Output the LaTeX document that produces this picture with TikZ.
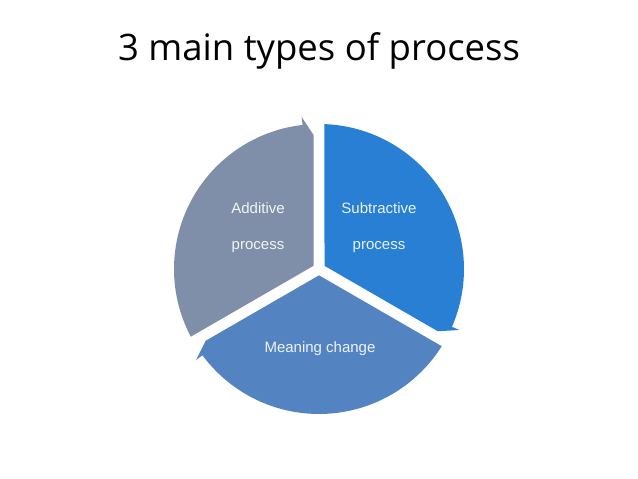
\documentclass[tikz,border=0pt]{standalone}
\usepackage{fontspec}
\setmainfont{Liberation Sans}
\newfontfamily\titlefont{Open Sans}
\usetikzlibrary{calc}
\definecolor{segGray}{RGB}{127,143,169}
\definecolor{segBlue}{RGB}{41,127,212}
\definecolor{segMid}{RGB}{84,131,193}
\tikzset{
  segtext/.style={text=white, text opacity=0.9, font=\fontsize{15}{17}\selectfont, inner sep=0pt},
}
\newcommand{\segment}[2]{% #1 start gap angle, #2 colour
  \pgfmathsetmacro{\gs}{#1}
  \pgfmathsetmacro{\ge}{#1-120}
  \fill[#2] ($(C)+(\gs-60:6.35)$) -- ($(C)+(\gs-2.17:145)$)
    arc[start angle=\gs-2.17, end angle=\ge+6.5, radius=145]
    -- ($(C)+(\ge+6.5:153)$)
    -- ($(C)+(\ge:134)+(\ge+90:5.5)$) -- cycle;
}
\begin{document}
\begin{tikzpicture}[x=1pt,y=1pt]
\useasboundingbox[fill=white] (0,0) rectangle (638,479);
\coordinate (C) at (319,210);
\node[font=\titlefont\fontsize{36.5}{42}\selectfont, inner sep=0pt] (title) at (319,428) {3 main types of process};
\segment{210}{segGray}
\segment{90}{segBlue}
\segment{-30}{segMid}
\node[segtext] (add1) at (258,271) {Additive};
\node[segtext] (add2) at (258,232) {process};
\node[segtext] (sub1) at (379,271) {Subtractive};
\node[segtext] (sub2) at (379,232) {process};
\node[segtext] (mean) at (320,130) {Meaning change};
\end{tikzpicture}
\end{document}
